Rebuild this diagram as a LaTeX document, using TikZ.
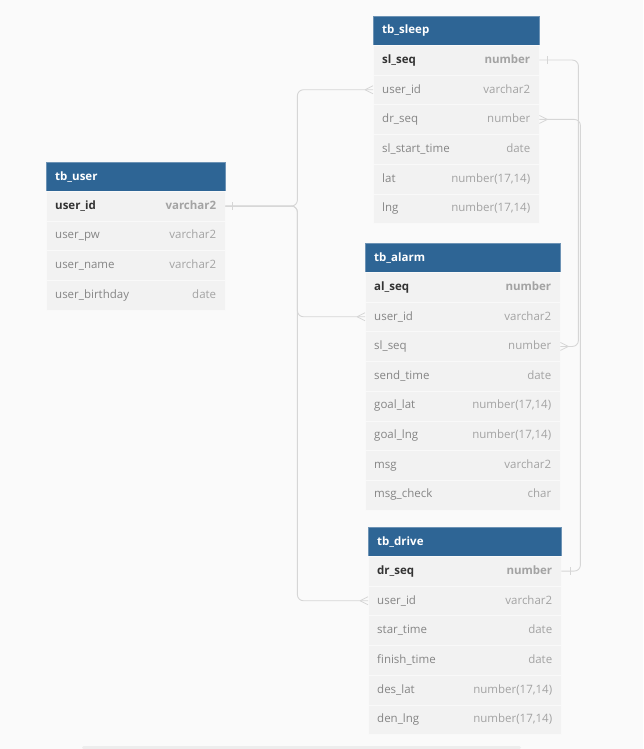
\documentclass[tikz,border=0pt]{standalone}
\usepackage{fontspec}
\setmainfont{Open Sans}
\usetikzlibrary{calc,positioning}

\definecolor{canvas}{HTML}{FAFAFA}
\definecolor{headblue}{HTML}{2E6595}
\definecolor{bodygray}{HTML}{F2F2F2}
\definecolor{keytext}{HTML}{333333}
\definecolor{fieldtext}{HTML}{858585}
\definecolor{typetext}{HTML}{A3A3A3}
\definecolor{linkgray}{HTML}{D6D6D6}
\definecolor{scrollgray}{HTML}{EDEDED}

\tikzset{
	tbhead/.style={anchor=north west, fill=headblue, draw=headblue!70!white, text=white,
		font=\fontsize{11.5}{14}\selectfont\bfseries, minimum height=29pt, inner sep=0pt},
	tbrow/.style={anchor=north west, fill=bodygray, draw=white!55!bodygray, line width=0.4pt,
		minimum height=29.7pt, inner sep=0pt, text=fieldtext, font=\fontsize{11.5}{14}\selectfont},
	tbkey/.style={tbrow, text=keytext, font=\fontsize{11.5}{14}\selectfont\bfseries},
	relline/.style={draw=linkgray, line width=0.9pt, rounded corners=6pt},
	pics/manyend/.style={code={\draw[linkgray, line width=0.8pt] (-8,0) -- (0,4) (-8,0) -- (0,-4);}},
	pics/oneend/.style={code={\draw[linkgray, line width=0.8pt] (0,-4) -- (0,4);}},
}

\begin{document}
\begin{tikzpicture}[x=1pt, y=-1pt]
	\fill[canvas] (0,0) rectangle (643,749);
	\fill[scrollgray, rounded corners=1.5pt] (82,746) rectangle (521,749);

	% tb_user
	\node[tbhead, minimum width=179pt]	(user)		at (46,162)	{\makebox[161pt][l]{tb\_user}};
	\node[tbkey, minimum width=179pt]	(user-1)	at (46,191)	{\makebox[161pt]{user\_id\hfill\textcolor{typetext}{varchar2}}};
	\foreach \fname/\ftype [count=\i from 2] in {user\_pw/varchar2, user\_name/varchar2, user\_birthday/date}
		\node[tbrow, minimum width=179pt] (user-\i) at (46,{191+29.7*(\i-1)}) {\makebox[161pt]{\fname\hfill\textcolor{typetext}{\ftype}}};

	% tb_sleep
	\node[tbhead, minimum width=166pt]	(sleep)		at (373,16)	{\makebox[148pt][l]{tb\_sleep}};
	\node[tbkey, minimum width=166pt]	(sleep-1)	at (373,45)	{\makebox[148pt]{sl\_seq\hfill\textcolor{typetext}{number}}};
	\foreach \fname/\ftype [count=\i from 2] in {user\_id/varchar2, dr\_seq/number, sl\_start\_time/date, lat/number(17{,}14), lng/number(17{,}14)}
		\node[tbrow, minimum width=166pt] (sleep-\i) at (373,{45+29.7*(\i-1)}) {\makebox[148pt]{\fname\hfill\textcolor{typetext}{\ftype}}};

	% tb_alarm
	\node[tbhead, minimum width=195pt]	(alarm)		at (365,243)	{\makebox[177pt][l]{tb\_alarm}};
	\node[tbkey, minimum width=195pt]	(alarm-1)	at (365,272)	{\makebox[177pt]{al\_seq\hfill\textcolor{typetext}{number}}};
	\foreach \fname/\ftype [count=\i from 2] in {user\_id/varchar2, sl\_seq/number, send\_time/date, goal\_lat/number(17{,}14), goal\_lng/number(17{,}14), msg/varchar2, msg\_check/char}
		\node[tbrow, minimum width=195pt] (alarm-\i) at (365,{272+29.7*(\i-1)}) {\makebox[177pt]{\fname\hfill\textcolor{typetext}{\ftype}}};

	% tb_drive
	\node[tbhead, minimum width=193pt]	(drive)		at (368,527)	{\makebox[175pt][l]{tb\_drive}};
	\node[tbkey, minimum width=193pt]	(drive-1)	at (368,556)	{\makebox[175pt]{dr\_seq\hfill\textcolor{typetext}{number}}};
	\foreach \fname/\ftype [count=\i from 2] in {user\_id/varchar2, star\_time/date, finish\_time/date, des\_lat/number(17{,}14), den\_lng/number(17{,}14)}
		\node[tbrow, minimum width=193pt] (drive-\i) at (368,{556+29.7*(\i-1)}) {\makebox[175pt]{\fname\hfill\textcolor{typetext}{\ftype}}};

	% relations
	\coordinate (userj)		at ($(user-1.east)+(72,0)$);
	\coordinate (sleepj)	at ($(alarm-3.east)+(18,0)$);
	\coordinate (drivej)	at ($(drive-1.east)+(19,0)$);

	\draw[relline] (user-1.east) -- (userj) |- (sleep-2.west);
	\draw[relline] (user-1.east) -- (userj) |- (alarm-2.west);
	\draw[relline] (user-1.east) -- (userj) |- (drive-2.west);
	\draw[relline] (sleep-1.east) -| (sleepj) -- (alarm-3.east);
	\draw[relline] (drive-1.east) -- (drivej) |- (sleep-3.east);

	\pic at ($(user-1.east)+(7,0)$)		{oneend};
	\pic at ($(sleep-1.east)+(8,0)$)	{oneend};
	\pic at ($(drive-1.east)+(9,0)$)	{oneend};
	\pic at (sleep-2.west)				{manyend};
	\pic at (alarm-2.west)				{manyend};
	\pic at (drive-2.west)				{manyend};
	\pic[xscale=-1] at (alarm-3.east)	{manyend};
	\pic[xscale=-1] at (sleep-3.east)	{manyend};
\end{tikzpicture}
\end{document}
